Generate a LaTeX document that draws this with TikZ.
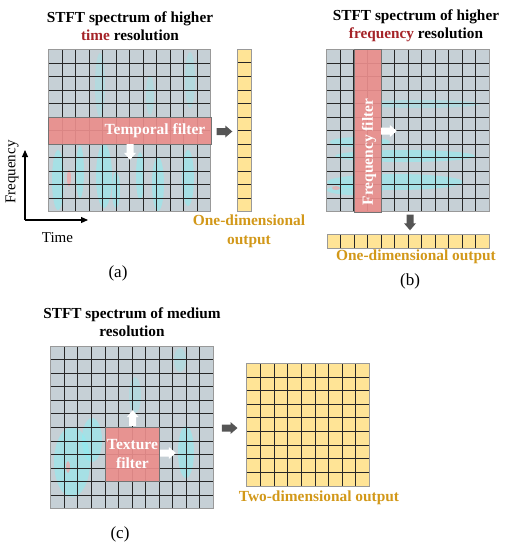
\documentclass[tikz,border=0pt]{standalone}
\usepackage{fontspec}
\setmainfont{Liberation Serif}
\usetikzlibrary{arrows.meta}
\definecolor{specfill}{RGB}{198,208,214}
\definecolor{outfill}{RGB}{255,228,150}
\definecolor{filterfill}{RGB}{234,142,140}
\definecolor{darkred}{RGB}{165,35,40}
\definecolor{orangetxt}{RGB}{210,152,25}
\definecolor{arrowgray}{RGB}{85,85,85}
\definecolor{cyanblob}{RGB}{140,238,242}
\tikzset{
  gridline/.style={draw=black!85, line width=0.7pt},
  gridborder/.style={draw=gray!80, line width=0.9pt},
  filterbox/.style={fill=filterfill, fill opacity=0.92, draw=black!55, line width=0.5pt},
  blob/.style={fill=cyanblob, fill opacity=0.55, draw=none},
  redblob/.style={fill=red!40!white, fill opacity=0.6, draw=none},
  titletxt/.style={font=\fontsize{15.3}{18.5}\selectfont\bfseries, align=center, inner sep=0pt},
  filtertxt/.style={font=\fontsize{15.5}{18.5}\selectfont\bfseries, text=white, align=center, inner sep=0pt},
  outtxt/.style={font=\fontsize{15.4}{19}\selectfont\bfseries, text=orangetxt, align=center, inner sep=0pt},
  axistxt/.style={font=\fontsize{15}{18}\selectfont, inner sep=0pt},
  paneltxt/.style={font=\fontsize{17}{20}\selectfont, inner sep=0pt},
  axisarrow/.style={draw=black, line width=1.1pt, -{Triangle[length=7pt,width=6pt]}},
}
\newcommand\blockarrow[4]{% x y angle color
  \fill[#4, shift={(#1,#2)}, rotate=#3] (-7.8,-3.5) -- (0.8,-3.5) -- (0.8,-6) -- (7.8,0) -- (0.8,6) -- (0.8,3.5) -- (-7.8,3.5) -- cycle;
}
\newcommand\mygridlines[5]{%
  \pgfmathsetmacro\xe{#1+#3*#5}%
  \pgfmathsetmacro\ye{#2+#4*#5}%
  \foreach \i in {1,...,#3}{\draw[gridline] ({#1+(\i-1)*#5},#2) -- ({#1+(\i-1)*#5},\ye);}
  \foreach \j in {1,...,#4}{\draw[gridline] (#1,{#2+(\j-1)*#5}) -- (\xe,{#2+(\j-1)*#5});}
  \draw[gridborder] (#1,#2) rectangle (\xe,\ye);
}
\newcommand\mygridfill[6]{%
  \fill[#6] (#1,#2) rectangle ({#1+#3*#5},{#2+#4*#5});
}
\begin{document}
\begin{tikzpicture}[x=1pt,y=-1pt]
\useasboundingbox (0,0) rectangle (508,550);
% ---------------- panel (a)
\node[titletxt] (ta) at (130,26) {STFT spectrum of higher\\{\color{darkred}time} resolution};
\mygridfill{48.3}{49.3}{12}{12}{13.55}{specfill}
\fill[blob] (58,180) ellipse (6 and 30);
\fill[blob] (80,172) ellipse (4 and 26);
\fill[blob] (104,176) ellipse (8 and 32);
\fill[blob] (116,190) ellipse (4 and 18);
\fill[blob] (140,176) ellipse (4 and 24);
\fill[blob] (158,184) ellipse (6 and 27);
\fill[blob] (188,178) ellipse (6 and 28);
\fill[blob, fill opacity=0.3] (100,85) ellipse (5 and 32);
\fill[blob, fill opacity=0.3] (190,80) ellipse (5 and 28);
\fill[blob, fill opacity=0.3] (150,95) ellipse (4 and 20);
\fill[redblob] (69,178) ellipse (2 and 8);
\mygridlines{48.3}{49.3}{12}{12}{13.55}
\node[filterbox, minimum width=162.6pt, minimum height=27.1pt, inner sep=0pt] (fa) at (129.6,130.6) {};
\node[filtertxt] (fta) at (155,131) {Temporal filter};
\blockarrow{130}{152}{-90}{white}
\blockarrow{224.5}{131.5}{0}{arrowgray}
\mygridfill{237}{49.3}{1}{12}{13.53}{outfill}
\foreach \j in {1,...,12}{\draw[gridline] (237,{49.3+\j*13.53}) -- (251,{49.3+\j*13.53});}
\draw[gridborder] (237,49.3) rectangle (251,211.7);
\node[outtxt] (oa) at (249,231) {One-dimensional\\output};
\coordinate (orig) at (25,220);
\coordinate (fy) at (25,150);
\coordinate (tx) at (88,220);
\draw[axisarrow] (orig) -- (fy);
\draw[axisarrow] (orig) -- (tx);
\node[axistxt, rotate=90] (fq) at (12,172) {Frequency};
\node[axistxt] (tm) at (57.5,238) {Time};
\node[paneltxt] (la) at (118,273) {(a)};
% ---------------- panel (b)
\node[titletxt] (tb) at (416,26) {STFT spectrum of higher\\{\color{darkred}frequency} resolution};
\mygridfill{326.7}{49.3}{12}{12}{13.55}{specfill}
\fill[blob, fill opacity=0.35] (420,104) ellipse (60 and 4);
\fill[blob] (360,142) ellipse (30 and 5);
\fill[blob] (405,156) ellipse (70 and 6);
\fill[blob] (395,182) ellipse (68 and 8);
\fill[blob] (355,190) ellipse (28 and 5);
\fill[redblob] (336,188) ellipse (4 and 2);
\mygridlines{326.7}{49.3}{12}{12}{13.55}
\node[filterbox, minimum width=27.1pt, minimum height=162.6pt, inner sep=0pt] (fb) at (367.35,130.6) {};
\node[filtertxt, rotate=90] (ftb) at (369,152) {Frequency filter};
\blockarrow{389}{131}{0}{white}
\blockarrow{410}{222.5}{-90}{arrowgray}
\mygridfill{327}{234}{12}{1}{13.5}{outfill}
\foreach \i in {1,...,12}{\draw[gridline] ({327+\i*13.5},234) -- ({327+\i*13.5},248);}
\draw[gridborder] (327,234) rectangle (489,248);
\node[outtxt] (ob) at (416,257) {One-dimensional output};
\node[paneltxt] (lb) at (410,281) {(b)};
% ---------------- panel (c)
\node[titletxt] (tc) at (132,322) {STFT spectrum of medium\\resolution};
\mygridfill{50.7}{346}{12}{12}{13.55}{specfill}
\fill[blob] (72,462) ellipse (18 and 35);
\fill[blob] (92,440) ellipse (10 and 22);
\fill[blob] (186,452) ellipse (8 and 26);
\fill[blob, fill opacity=0.3] (135,395) ellipse (6 and 18);
\fill[blob, fill opacity=0.3] (180,360) ellipse (6 and 12);
\fill[redblob] (68,467) ellipse (2 and 6);
\mygridlines{50.7}{346}{12}{12}{13.55}
\node[filterbox, minimum width=54.2pt, minimum height=54.2pt, inner sep=0pt] (fc) at (132.0,454.4) {};
\node[filtertxt] (ftc) at (132.5,454) {Texture\\filter};
\blockarrow{132.7}{418}{90}{white}
\blockarrow{168}{453}{0}{white}
\blockarrow{229.7}{428}{0}{arrowgray}
\mygridfill{246.7}{363.3}{9}{9}{13.63}{outfill}
\mygridlines{246.7}{363.3}{9}{9}{13.63}
\node[outtxt] (oc) at (319,498) {Two-dimensional output};
\node[paneltxt] (lc) at (120,534) {(c)};
\end{tikzpicture}
\end{document}
